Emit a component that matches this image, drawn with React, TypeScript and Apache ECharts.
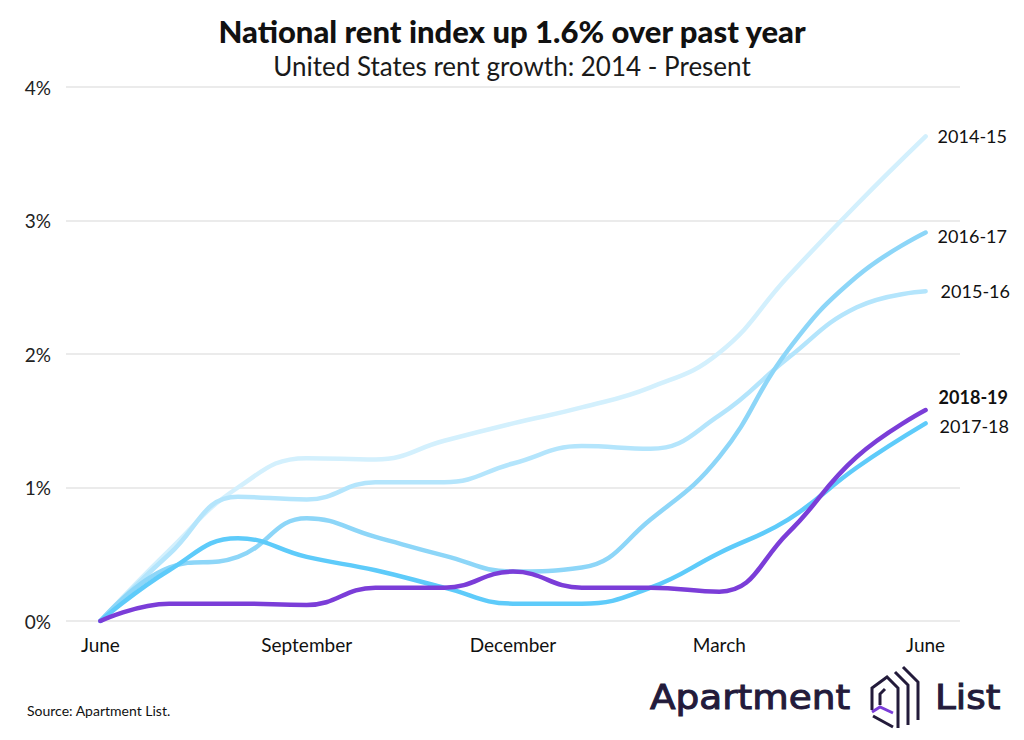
import React, { useEffect, useRef } from "react";
import * as echarts from "echarts";

const months = ["June", "July", "August", "September", "October", "November", "December", "January", "February", "March", "April", "May", "June"];
const yTicks = [0, 1, 2, 3, 4];
const s2014 = [0, 0.53, 1.0, 1.22, 1.21, 1.35, 1.48, 1.6, 1.75, 2.01, 2.58, 3.12, 3.63];
const s2015 = [0, 0.5, 0.93, 0.91, 1.04, 1.04, 1.18, 1.31, 1.29, 1.54, 1.97, 2.35, 2.47];
const s2016 = [0, 0.4, 0.48, 0.77, 0.63, 0.49, 0.37, 0.4, 0.76, 1.23, 2.03, 2.58, 2.91];
const s2017 = [0, 0.38, 0.62, 0.48, 0.38, 0.25, 0.13, 0.13, 0.25, 0.51, 0.76, 1.15, 1.48];
const s2018 = [0, 0.13, 0.13, 0.12, 0.25, 0.25, 0.37, 0.25, 0.25, 0.22, 0.66, 1.23, 1.58];

const seriesDefs = [
  { name: "2014-15", data: s2014, color: "#d3f0fd", bold: false, offset: [0, 0] },
  { name: "2015-16", data: s2015, color: "#b4e5fc", bold: false, offset: [3, 0] },
  { name: "2016-17", data: s2016, color: "#8dd6f8", bold: false, offset: [0, 3] },
  { name: "2017-18", data: s2017, color: "#5ecbfa", bold: false, offset: [2, 3] },
  { name: "2018-19", data: s2018, color: "#7b3dd8", bold: true, offset: [1, -13] },
];

const FONT = "Lato, 'Noto Sans', sans-serif";
const LOGO_FONT = "'DejaVu Sans', sans-serif";
const DARK = "#231b3b";

export default function App() {
  const ref = useRef<HTMLDivElement>(null);
  useEffect(() => {
    document.body.style.margin = "0";
    const chart = echarts.init(ref.current!, null, { renderer: "svg" });
    const stroke = (points: number[][], color = DARK) => ({
      type: "polyline",
      shape: { points },
      style: { stroke: color, lineWidth: 3, fill: "none" },
    });
    chart.setOption({
      animation: false,
      backgroundColor: "#ffffff",
      textStyle: { fontFamily: FONT },
      grid: { left: 66, right: 64, top: 87, bottom: 119, containLabel: false },
      xAxis: {
        type: "category",
        data: months,
        boundaryGap: true,
        axisLine: { show: false },
        axisTick: { show: false },
        splitLine: { show: false },
        axisLabel: { interval: 2, fontSize: 19, color: "#111", margin: 14, fontFamily: FONT },
      },
      yAxis: {
        type: "value",
        min: 0,
        max: 4,
        interval: 1,
        axisLine: { show: false },
        axisTick: { show: false },
        splitLine: { lineStyle: { color: "#e4e4e4", width: 1.5 } },
        axisLabel: {
          fontSize: 19,
          color: "#222",
          margin: 15,
          fontFamily: FONT,
          formatter: (v: number) => (yTicks.includes(v) ? `${v}%` : ""),
        },
      },
      series: seriesDefs.map((d) => ({
        name: d.name,
        type: "line",
        data: d.data,
        smooth: 0.45,
        symbol: "none",
        lineStyle: { color: d.color, width: 4.5, cap: "round" },
        itemStyle: { color: d.color },
        endLabel: {
          show: true,
          formatter: d.name,
          distance: 12,
          offset: d.offset,
          fontSize: 18,
          fontFamily: FONT,
          fontWeight: d.bold ? "bold" : "normal",
          color: "#111",
        },
        emphasis: { disabled: true },
      })),
      graphic: [
        {
          type: "text",
          x: 512,
          y: 31,
          style: {
            text: "National rent index up 1.6% over past year",
            fontSize: 31,
            fontWeight: 900,
            fill: "#111",
            fontFamily: FONT,
            align: "center",
            verticalAlign: "middle",
          },
        },
        {
          type: "text",
          x: 512,
          y: 66,
          style: {
            text: "United States rent growth: 2014 - Present",
            fontSize: 26,
            fill: "#1a1a1a",
            fontFamily: FONT,
            align: "center",
            verticalAlign: "middle",
          },
        },
        {
          type: "text",
          x: 27,
          y: 710,
          style: { text: "Source: Apartment List.", fontSize: 14, fill: "#111", fontFamily: FONT, verticalAlign: "middle" },
        },
        {
          type: "text",
          x: 650,
          y: 697,
          scaleX: 1.1,
          style: {
            text: "Apartment",
            fontSize: 34,
            fill: DARK,
            stroke: DARK,
            lineWidth: 1,
            fontFamily: LOGO_FONT,
            verticalAlign: "middle",
          },
        },
        {
          type: "text",
          x: 935,
          y: 697,
          scaleX: 1.1,
          style: {
            text: "List",
            fontSize: 34,
            fill: DARK,
            stroke: DARK,
            lineWidth: 1,
            fontFamily: LOGO_FONT,
            verticalAlign: "middle",
          },
        },
        stroke([[872, 710], [872, 688], [887, 677], [898, 688], [898, 728]]),
        stroke([[895, 672], [908, 685], [908, 725]]),
        stroke([[903, 667], [918, 682], [918, 720]]),
        stroke([[885, 689], [880, 694], [880, 705]]),
        stroke([[872, 712], [880, 707], [893, 713]], "#7b3dd8"),
        stroke([[873, 716], [893, 727]]),
      ],
    });
    return () => chart.dispose();
  }, []);
  return <div ref={ref} style={{ width: 1024, height: 740 }} />;
}
